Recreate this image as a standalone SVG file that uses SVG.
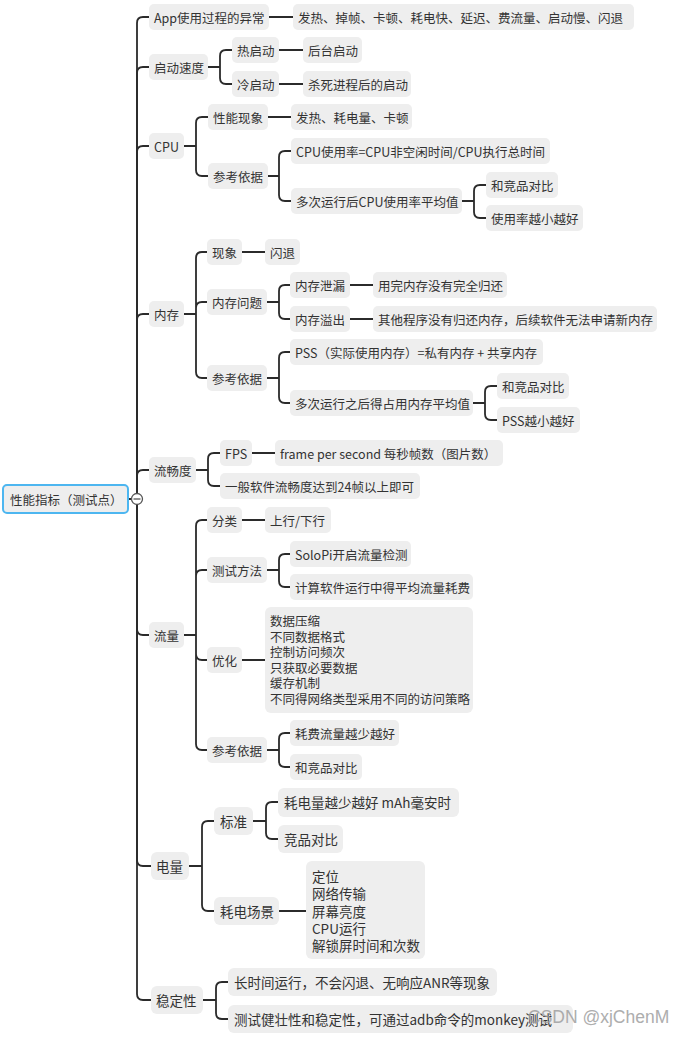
<svg xmlns="http://www.w3.org/2000/svg" width="686" height="1037" viewBox="0 0 686 1037">
<style>
.bg{fill:#ffffff}
.n rect{fill:#eeeeee}
.n text{font-family:"Noto Sans CJK SC","Liberation Sans",sans-serif;font-size:12.5px;fill:#333333;dominant-baseline:central}
.b text{font-size:13.5px}
.c path{fill:none;stroke:#2b2b2b;stroke-width:1.8;stroke-linecap:round}
.root rect{fill:#eeeeee;stroke:#4db6f0;stroke-width:2}
.wm{font-family:"Liberation Sans",sans-serif;font-size:17.5px;fill:#a0a0a0;opacity:0.85}
</style>
<rect class="bg" x="0" y="0" width="686" height="1037"/>
<g id="connectors" class="c">
<path d="M128,499 H132"/>
<path d="M137,499 V23 Q137,17 143,17 H149"/>
<path d="M137,499 V73 Q137,67 143,67 H149"/>
<path d="M137,499 V152 Q137,146 143,146 H149"/>
<path d="M137,499 V320 Q137,314 143,314 H149"/>
<path d="M137,499 V476 Q137,470 143,470 H149"/>
<path d="M137,499 V629 Q137,635 143,635 H149"/>
<path d="M137,499 V860 Q137,866 143,866 H151"/>
<path d="M137,499 V994 Q137,1000 143,1000 H151"/>
<path d="M269,17 H293"/>
<path d="M208,67 H220 M220,67 V56 Q220,50 226,50 H232 M220,67 V78 Q220,84 226,84 H232"/>
<path d="M279,50 H303 M279,84 H303"/>
<path d="M184,146 H196 M196,146 V123 Q196,117 202,117 H208 M196,146 V170 Q196,176 202,176 H208"/>
<path d="M268,117 H291"/>
<path d="M268,176 H279 M279,176 V157 Q279,151 285,151 H291 M279,176 V195 Q279,201 285,201 H291"/>
<path d="M462,201 H474 M474,201 V191 Q474,185 480,185 H486 M474,201 V212 Q474,218 480,218 H486"/>
<path d="M184,314 H196 M196,314 V258 Q196,252 202,252 H207 M196,314 V308 Q196,302 202,302 H207 M196,314 V372 Q196,378 202,378 H207"/>
<path d="M242,252 H265"/>
<path d="M267,302 H279 M279,302 V291 Q279,285 285,285 H290 M279,302 V313 Q279,319 285,319 H290"/>
<path d="M350,285 H373 M350,319 H373"/>
<path d="M267,378 H279 M279,378 V358 Q279,352 285,352 H290 M279,378 V397 Q279,403 285,403 H290"/>
<path d="M473,403 H485 M485,403 V392 Q485,386 491,386 H497 M485,403 V414 Q485,420 491,420 H497"/>
<path d="M196,470 H208 M208,470 V459 Q208,453 214,453 H220 M208,470 V480 Q208,486 214,486 H220"/>
<path d="M252,453 H275"/>
<path d="M184,635 H196 M196,635 V526 Q196,520 202,520 H207 M196,635 V576 Q196,570 202,570 H207 M196,635 V654 Q196,660 202,660 H207 M196,635 V744 Q196,750 202,750 H207"/>
<path d="M242,520 H265"/>
<path d="M267,570 H279 M279,570 V560 Q279,554 285,554 H290 M279,570 V581 Q279,587 285,587 H290"/>
<path d="M242,660 H265"/>
<path d="M267,750 H279 M279,750 V739 Q279,733 285,733 H290 M279,750 V761 Q279,767 285,767 H290"/>
<path d="M189,866 H202 M202,866 V827 Q202,821 208,821 H214 M202,866 V905 Q202,911 208,911 H214"/>
<path d="M253,821 H266 M266,821 V808 Q266,802 272,802 H278 M266,821 V833 Q266,839 272,839 H278"/>
<path d="M279,911 H306"/>
<path d="M203,1000 H216 M216,1000 V988 Q216,982 222,982 H228 M216,1000 V1013 Q216,1019 222,1019 H228"/>
</g>
<g id="collapse">
<circle cx="137" cy="499" r="5.5" fill="#ffffff" stroke="#555555" stroke-width="1.3"/>
<path d="M133.5,499 H140.5" stroke="#555555" stroke-width="1.3"/>
</g>
<g id="root" class="n root"><rect x="3" y="485" width="125" height="28" rx="4"/><text x="10" y="499">性能指标（测试点）</text></g>
<g id="n1" class="n"><rect x="149" y="4" width="120" height="26" rx="5"/><text x="154" y="17">App使用过程的异常</text></g>
<g id="n1a" class="n"><rect x="293" y="4" width="341" height="26" rx="5"/><text x="298" y="17">发热、掉帧、卡顿、耗电快、延迟、费流量、启动慢、闪退</text></g>
<g id="n2" class="n"><rect x="149" y="54" width="59" height="26" rx="5"/><text x="154" y="67">启动速度</text></g>
<g id="n2a" class="n"><rect x="232" y="37" width="47" height="26" rx="5"/><text x="237" y="50">热启动</text></g>
<g id="n2a1" class="n"><rect x="303" y="37" width="59" height="26" rx="5"/><text x="308" y="50">后台启动</text></g>
<g id="n2b" class="n"><rect x="232" y="71" width="47" height="26" rx="5"/><text x="237" y="84">冷启动</text></g>
<g id="n2b1" class="n"><rect x="303" y="71" width="108" height="26" rx="5"/><text x="308" y="84">杀死进程后的启动</text></g>
<g id="n3" class="n"><rect x="149" y="133" width="35" height="26" rx="5"/><text x="154" y="146">CPU</text></g>
<g id="n3a" class="n"><rect x="208" y="104" width="60" height="26" rx="5"/><text x="213" y="117">性能现象</text></g>
<g id="n3a1" class="n"><rect x="291" y="104" width="121" height="26" rx="5"/><text x="296" y="117">发热、耗电量、卡顿</text></g>
<g id="n3b" class="n"><rect x="208" y="163" width="60" height="26" rx="5"/><text x="213" y="176">参考依据</text></g>
<g id="n3b1" class="n"><rect x="291" y="138" width="259" height="26" rx="5"/><text x="296" y="151">CPU使用率=CPU非空闲时间/CPU执行总时间</text></g>
<g id="n3b2" class="n"><rect x="291" y="188" width="171" height="26" rx="5"/><text x="296" y="201">多次运行后CPU使用率平均值</text></g>
<g id="n3b2a" class="n"><rect x="486" y="172" width="72" height="26" rx="5"/><text x="491" y="185">和竞品对比</text></g>
<g id="n3b2b" class="n"><rect x="486" y="205" width="97" height="26" rx="5"/><text x="491" y="218">使用率越小越好</text></g>
<g id="n4" class="n"><rect x="149" y="301" width="35" height="26" rx="5"/><text x="154" y="314">内存</text></g>
<g id="n4a" class="n"><rect x="207" y="239" width="35" height="26" rx="5"/><text x="212" y="252">现象</text></g>
<g id="n4a1" class="n"><rect x="265" y="239" width="35" height="26" rx="5"/><text x="270" y="252">闪退</text></g>
<g id="n4b" class="n"><rect x="207" y="289" width="60" height="26" rx="5"/><text x="212" y="302">内存问题</text></g>
<g id="n4b1" class="n"><rect x="290" y="272" width="60" height="26" rx="5"/><text x="295" y="285">内存泄漏</text></g>
<g id="n4b1a" class="n"><rect x="373" y="272" width="134" height="26" rx="5"/><text x="378" y="285">用完内存没有完全归还</text></g>
<g id="n4b2" class="n"><rect x="290" y="306" width="60" height="26" rx="5"/><text x="295" y="319">内存溢出</text></g>
<g id="n4b2a" class="n"><rect x="373" y="306" width="284" height="26" rx="5"/><text x="378" y="319">其他程序没有归还内存，后续软件无法申请新内存</text></g>
<g id="n4c" class="n"><rect x="207" y="365" width="60" height="26" rx="5"/><text x="212" y="378">参考依据</text></g>
<g id="n4c1" class="n"><rect x="290" y="339" width="253" height="26" rx="5"/><text x="295" y="352">PSS（实际使用内存）=私有内存 + 共享内存</text></g>
<g id="n4c2" class="n"><rect x="290" y="390" width="183" height="26" rx="5"/><text x="295" y="403">多次运行之后得占用内存平均值</text></g>
<g id="n4c2a" class="n"><rect x="497" y="373" width="72" height="26" rx="5"/><text x="502" y="386">和竞品对比</text></g>
<g id="n4c2b" class="n"><rect x="497" y="407" width="83" height="26" rx="5"/><text x="502" y="420">PSS越小越好</text></g>
<g id="n5" class="n"><rect x="149" y="457" width="47" height="26" rx="5"/><text x="154" y="470">流畅度</text></g>
<g id="n5a" class="n"><rect x="220" y="440" width="32" height="26" rx="5"/><text x="225" y="453">FPS</text></g>
<g id="n5a1" class="n"><rect x="275" y="440" width="228" height="26" rx="5"/><text x="280" y="453">frame per second 每秒帧数（图片数）</text></g>
<g id="n5b" class="n"><rect x="220" y="473" width="200" height="26" rx="5"/><text x="225" y="486">一般软件流畅度达到24帧以上即可</text></g>
<g id="n6" class="n"><rect x="149" y="622" width="35" height="26" rx="5"/><text x="154" y="635">流量</text></g>
<g id="n6a" class="n"><rect x="207" y="507" width="35" height="26" rx="5"/><text x="212" y="520">分类</text></g>
<g id="n6a1" class="n"><rect x="265" y="507" width="66" height="26" rx="5"/><text x="270" y="520">上行/下行</text></g>
<g id="n6b" class="n"><rect x="207" y="557" width="60" height="26" rx="5"/><text x="212" y="570">测试方法</text></g>
<g id="n6b1" class="n"><rect x="290" y="541" width="121" height="26" rx="5"/><text x="295" y="554">SoloPi开启流量检测</text></g>
<g id="n6b2" class="n"><rect x="290" y="574" width="183" height="26" rx="5"/><text x="295" y="587">计算软件运行中得平均流量耗费</text></g>
<g id="n6c" class="n"><rect x="207" y="647" width="35" height="26" rx="5"/><text x="212" y="660">优化</text></g>
<g id="n6c1" class="n"><rect x="265" y="607" width="208" height="106" rx="6"/>
<text x="270" y="620"><tspan x="270" y="620">数据压缩</tspan><tspan x="270" y="636">不同数据格式</tspan><tspan x="270" y="651">控制访问频次</tspan><tspan x="270" y="667">只获取必要数据</tspan><tspan x="270" y="682">缓存机制</tspan><tspan x="270" y="698">不同得网络类型采用不同的访问策略</tspan></text></g>
<g id="n6d" class="n"><rect x="207" y="737" width="60" height="26" rx="5"/><text x="212" y="750">参考依据</text></g>
<g id="n6d1" class="n"><rect x="290" y="720" width="109" height="26" rx="5"/><text x="295" y="733">耗费流量越少越好</text></g>
<g id="n6d2" class="n"><rect x="290" y="754" width="72" height="26" rx="5"/><text x="295" y="767">和竞品对比</text></g>
<g id="n7" class="n b"><rect x="151" y="852" width="38" height="28" rx="6"/><text x="156" y="866">电量</text></g>
<g id="n7a" class="n b"><rect x="214" y="807" width="39" height="28" rx="6"/><text x="220" y="821">标准</text></g>
<g id="n7a1" class="n b"><rect x="278" y="788" width="181" height="29" rx="6"/><text x="284" y="802">耗电量越少越好 mAh毫安时</text></g>
<g id="n7a2" class="n b"><rect x="278" y="825" width="65" height="28" rx="6"/><text x="284" y="839">竞品对比</text></g>
<g id="n7b" class="n b"><rect x="214" y="897" width="65" height="28" rx="6"/><text x="220" y="911">耗电场景</text></g>
<g id="n7b1" class="n b"><rect x="306" y="861" width="119" height="98" rx="6"/>
<text x="312" y="876"><tspan x="312" y="876">定位</tspan><tspan x="312" y="893">网络传输</tspan><tspan x="312" y="911">屏幕亮度</tspan><tspan x="312" y="928">CPU运行</tspan><tspan x="312" y="945">解锁屏时间和次数</tspan></text></g>
<g id="n8" class="n b"><rect x="151" y="986" width="52" height="28" rx="6"/><text x="156" y="1000">稳定性</text></g>
<g id="n8a" class="n b"><rect x="228" y="968" width="269" height="28" rx="6"/><text x="234" y="982">长时间运行，不会闪退、无响应ANR等现象</text></g>
<g id="n8b" class="n b"><rect x="228" y="1005" width="345" height="28" rx="6"/><text x="234" y="1019">测试健壮性和稳定性，可通过adb命令的monkey测试</text></g>
<text class="wm" x="528" y="1023">CSDN @xjChenM</text>
</svg>
